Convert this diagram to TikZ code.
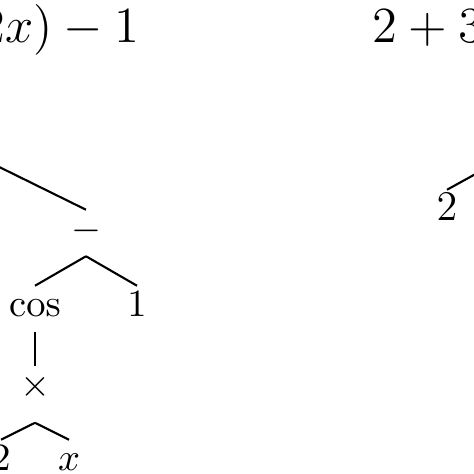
\documentclass[tikz,border=0pt]{standalone}
\usetikzlibrary{positioning}

\begin{document}
\begin{tikzpicture}[on grid,
        treenode/.style={font=\fontsize{10.8}{13}\selectfont, inner xsep=1pt, inner ysep=2pt, text height=1.5ex, text depth=.55ex},
        treeedge/.style={line width=0.6pt}]
        \useasboundingbox (0,0) rectangle (4.74,-4.74);
        \node[anchor=base east, inner sep=0pt, font=\fontsize{15.5}{18}\selectfont] (lefttitle) at (1.40,-0.43) {$\cos(2x)-1$};
        \node[anchor=base west, inner sep=0pt, font=\fontsize{15.5}{18}\selectfont] (righttitle) at (3.72,-0.43) {$2+3$};
        \coordinate (leftroot) at (-0.86,-1.25);
        \node[treenode] (minus) at (0.86,-2.33) {$-$};
        \node[treenode] (cosnode) [below left=0.76cm and 0.51cm of minus] {$\cos$};
        \node[treenode] (onenode) [below right=0.76cm and 0.51cm of minus] {$1$};
        \node[treenode] (timesnode) [below=0.80cm of cosnode] {$\times$};
        \node[treenode] (twonode) [below left=0.74cm and 0.34cm of timesnode] {$2$};
        \node[treenode] (xnode) [below right=0.74cm and 0.34cm of timesnode] {$x$};
        \draw[treeedge] (leftroot) -- (minus.north);
        \draw[treeedge] (minus.south) -- (cosnode.north);
        \draw[treeedge] (minus.south) -- (onenode.north);
        \draw[treeedge] (cosnode.south) -- (timesnode.north);
        \draw[treeedge] ([yshift=-3pt]timesnode.south) -- (twonode.north);
        \draw[treeedge] ([yshift=-3pt]timesnode.south) -- (xnode.north);
        % second tree, only its left leaf shows
        \coordinate (rightroot) at (5.01,-1.60);
        \node[treenode, font=\fontsize{13}{15}\selectfont] (righttwo) at (4.47,-2.13) {$2$};
        \draw[treeedge] (rightroot) -- (righttwo.north);
\end{tikzpicture}
\end{document}
